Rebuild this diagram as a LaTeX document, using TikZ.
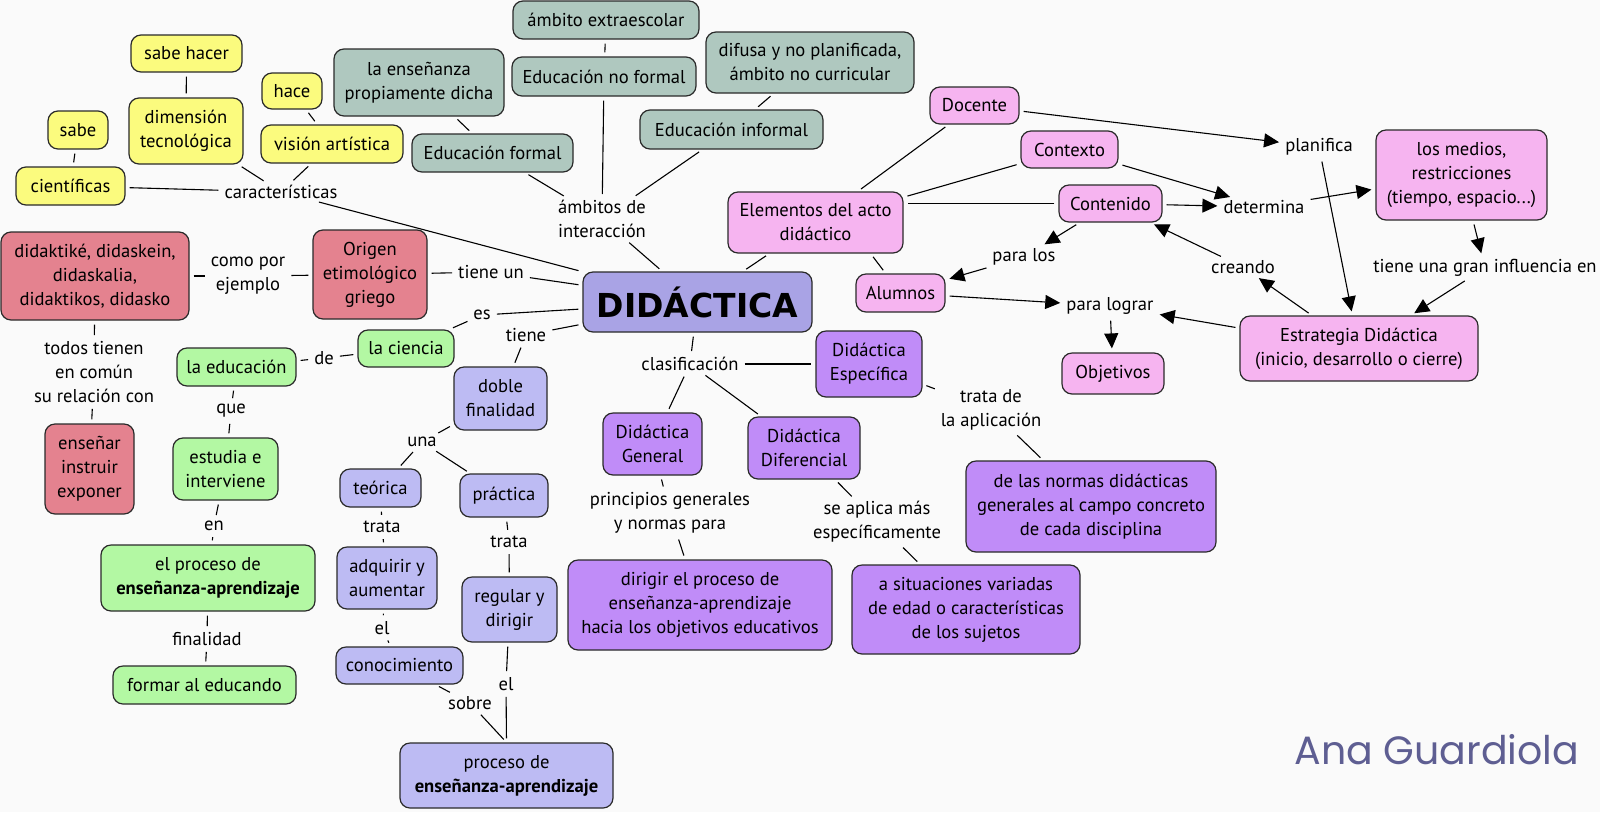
\documentclass[tikz,border=0pt]{standalone}
\usepackage{fontspec}
\usetikzlibrary{arrows.meta}
\setmainfont{PT Sans}
\newfontfamily\titlefont{DejaVu Sans}
\newfontfamily\anafont{Poppins}
\definecolor{bgc}{HTML}{FAFAFA}
\definecolor{edgec}{HTML}{2A2A2A}
\definecolor{yel}{HTML}{FBFB7E}
\definecolor{gry}{HTML}{AFC8BF}
\definecolor{pnk}{HTML}{F6B4F0}
\definecolor{pur}{HTML}{C08CF8}
\definecolor{lav}{HTML}{BDBBF3}
\definecolor{cen}{HTML}{A9A3E5}
\definecolor{grn}{HTML}{B3F8A3}
\definecolor{rd}{HTML}{E4828F}
\definecolor{anac}{HTML}{5E5E92}
\tikzset{
  box/.style={draw=edgec,line width=1.2pt,rounded corners=10pt,inner sep=0pt,align=center,text=black,
    font=\fontsize{18.6}{24}\selectfont},
  lbl/.style={inner sep=2pt,align=center,text=black,font=\fontsize{18.6}{24}\selectfont},
  ln/.style={draw=black,line width=1.1pt,shorten >=4pt,shorten <=4pt},
  arr/.style={ln,-{Triangle[length=15pt,width=14pt]}},
}
% \bx{name}{x1}{y1}{x2}{y2}{fill}{text}
\newcommand{\bx}[7]{\node[box,fill=#6,minimum width={(#4-#2)*1pt},minimum height={(#5-#3)*1pt}] (#1) at ({(#2+#4)/2},{(#3+#5)/2}) {#7};}
\newcommand{\lb}[4]{\node[lbl] (#1) at (#2,#3) {#4};}
\begin{document}
\begin{tikzpicture}[x=1pt,y=-1pt]
\useasboundingbox (0,0) rectangle (1600,812);
\fill[bgc] (0,0) rectangle (1600,812);
% yellow
\bx{sabehacer}{131}{35}{242}{72}{yel}{sabe hacer}
\bx{dimension}{129}{98}{243}{164}{yel}{dimensión\\tecnológica}
\bx{hace}{262}{73}{322}{109}{yel}{hace}
\bx{vision}{261}{125}{403}{163}{yel}{visión artística}
\bx{sabe}{48}{111}{108}{149}{yel}{sabe}
\bx{cientificas}{16}{167}{125}{205}{yel}{científicas}
% grey
\bx{extra}{513}{1}{699}{39}{gry}{ámbito extraescolar}
\bx{noformal}{512}{57}{696}{96}{gry}{Educación no formal}
\bx{ensenanza}{334}{49}{504}{116}{gry}{la enseñanza\\propiamente dicha}
\bx{formal}{412}{134}{573}{172}{gry}{Educación formal}
\bx{difusa}{706}{32}{914}{93}{gry}{difusa y no planificada,\\ámbito no curricular}
\bx{informal}{640}{110}{823}{149}{gry}{Educación informal}
% pink
\bx{docente}{930}{87}{1019}{124}{pnk}{Docente}
\bx{contexto}{1021}{131}{1118}{168}{pnk}{Contexto}
\bx{contenido}{1059}{185}{1162}{222}{pnk}{Contenido}
\bx{elementos}{728}{192}{903}{253}{pnk}{Elementos del acto\\didáctico}
\bx{alumnos}{856}{274}{945}{312}{pnk}{Alumnos}
\bx{medios}{1376}{130}{1547}{220}{pnk}{los medios,\\restricciones\\(tiempo, espacio...)}
\bx{estrategia}{1240}{316}{1478}{381}{pnk}{Estrategia Didáctica\\(inicio, desarrollo o cierre)}
\bx{objetivos}{1062}{353}{1164}{394}{pnk}{Objetivos}
% dark purple
\bx{especifica}{816}{331}{922}{397}{pur}{Didáctica\\Específica}
\bx{general}{603}{413}{702}{475}{pur}{Didáctica\\General}
\bx{diferencial}{748}{417}{860}{479}{pur}{Didáctica\\Diferencial}
\bx{dirigirp}{568}{560}{832}{650}{pur}{dirigir el proceso de\\enseñanza-aprendizaje\\hacia los objetivos educativos}
\bx{situaciones}{852}{565}{1080}{654}{pur}{a situaciones variadas\\de edad o características\\de los sujetos}
\bx{normas}{966}{461}{1216}{552}{pur}{de las normas didácticas\\generales al campo concreto\\de cada disciplina}
% lavender
\bx{doble}{454}{367}{547}{430}{lav}{doble\\finalidad}
\bx{teorica}{340}{469}{421}{507}{lav}{teórica}
\bx{practica}{460}{474}{548}{517}{lav}{práctica}
\bx{adquirir}{337}{547}{437}{609}{lav}{adquirir y\\aumentar}
\bx{regular}{462}{577}{557}{642}{lav}{regular y\\dirigir}
\bx{conocimiento}{336}{647}{463}{684}{lav}{conocimiento}
\bx{procesolav}{400}{743}{613}{808}{lav}{proceso de\\\textbf{enseñanza-aprendizaje}}
% green
\bx{ciencia}{358}{330}{454}{367}{grn}{la ciencia}
\bx{educacion}{177}{348}{296}{386}{grn}{la educación}
\bx{estudia}{173}{438}{278}{500}{grn}{estudia e\\interviene}
\bx{procesogrn}{101}{545}{315}{611}{grn}{el proceso de\\\textbf{enseñanza-aprendizaje}}
\bx{formar}{113}{666}{296}{704}{grn}{formar al educando}
% red
\bx{didaktike}{1}{232}{189}{320}{rd}{didaktiké, didaskein,\\didaskalia,\\didaktikos, didasko}
\bx{origen}{313}{230}{427}{319}{rd}{Origen\\etimológico\\griego}
\bx{ensenar}{45}{424}{134}{514}{rd}{enseñar\\instruir\\exponer}
% centre
\node[box,fill=cen,minimum width=229pt,minimum height=60pt,font=\titlefont\bfseries\fontsize{33}{36}\selectfont] (did) at (697.5,302) {\raisebox{-2pt}{DIDÁCTICA}};
% labels
\lb{caract}{281}{192}{características}
\lb{ambitos}{602}{219}{ámbitos de\\interacción}
\lb{tieneun}{491}{272}{tiene un}
\lb{como}{248}{276}{como por\\ejemplo}
\lb{es}{482}{315}{es}
\lb{tiene}{526}{335}{tiene}
\lb{de}{324}{358}{de}
\lb{todos}{94}{372}{todos tienen\\en común\\su relación con}
\lb{clasif}{690}{364}{clasificación}
\lb{que}{231}{411}{que}
\lb{una}{422}{442}{una}
\lb{en}{214}{526}{en}
\lb{tratal}{382}{527}{trata}
\lb{tratar}{509}{542}{trata}
\lb{principios}{670}{513}{principios generales\\y normas para}
\lb{ell}{382}{628}{el}
\lb{finalidad}{207}{639}{finalidad}
\lb{elr}{506}{684}{el}
\lb{sobre}{470}{703}{sobre}
\lb{seaplica}{877}{522}{se aplica más\\específicamente}
\lb{tratade}{991}{410}{trata de\\la aplicación}
\lb{planifica}{1319}{147}{planifica}
\lb{determina}{1264}{207}{determina}
\lb{paralos}{1024}{257}{para los}
\lb{creando}{1243}{267}{creando}
\lb{influencia}{1485}{268}{tiene una gran influencia en}
\lb{lograr}{1110}{306}{para lograr}
\node[inner sep=0pt,text=anac,font=\anafont\fontsize{39.5}{42}\selectfont] (ana) at (1437,750) {Ana Guardiola};
% plain connectors
\foreach \a/\b in {cientificas/caract,dimension/caract,vision/caract,caract/did,sabehacer/dimension,hace/vision,sabe/cientificas,
  extra/noformal,noformal/ambitos,ensenanza/formal,formal/ambitos,difusa/informal,informal/ambitos,ambitos/did,
  elementos/did,docente/elementos,contexto/elementos,
  origen/tieneun,tieneun/did,didaktike/como,como/origen,didaktike/todos,todos/ensenar,
  did/es,es/ciencia,ciencia/de,de/educacion,educacion/que,que/estudia,estudia/en,en/procesogrn,procesogrn/finalidad,finalidad/formar,
  did/tiene,tiene/doble,doble/una,una/teorica,una/practica,teorica/tratal,tratal/adquirir,practica/tratar,tratar/regular,adquirir/ell,ell/conocimiento,conocimiento/sobre,regular/elr,
  did/clasif,clasif/especifica,clasif/general,clasif/diferencial,general/principios,principios/dirigirp,diferencial/seaplica,seaplica/situaciones,especifica/tratade,tratade/normas}
  {\draw[ln] (\a) -- (\b);}
\draw[ln] (sobre) -- (procesolav.north);
\draw[ln] (elr) -- (procesolav.north);
\draw[ln] (contenido) -- (elementos.east |- contenido);
\draw[ln] (alumnos) -- ([xshift=-33pt]elementos.south east);
% arrows
\foreach \a/\b in {docente/planifica,contexto/determina,contenido/determina,determina/medios,contenido/paralos,paralos/alumnos,creando/contenido,estrategia/creando,planifica/estrategia,medios/influencia,influencia/estrategia,alumnos/lograr,estrategia/lograr,lograr/objetivos}
  {\draw[arr] (\a) -- (\b);}
\end{tikzpicture}
\end{document}
